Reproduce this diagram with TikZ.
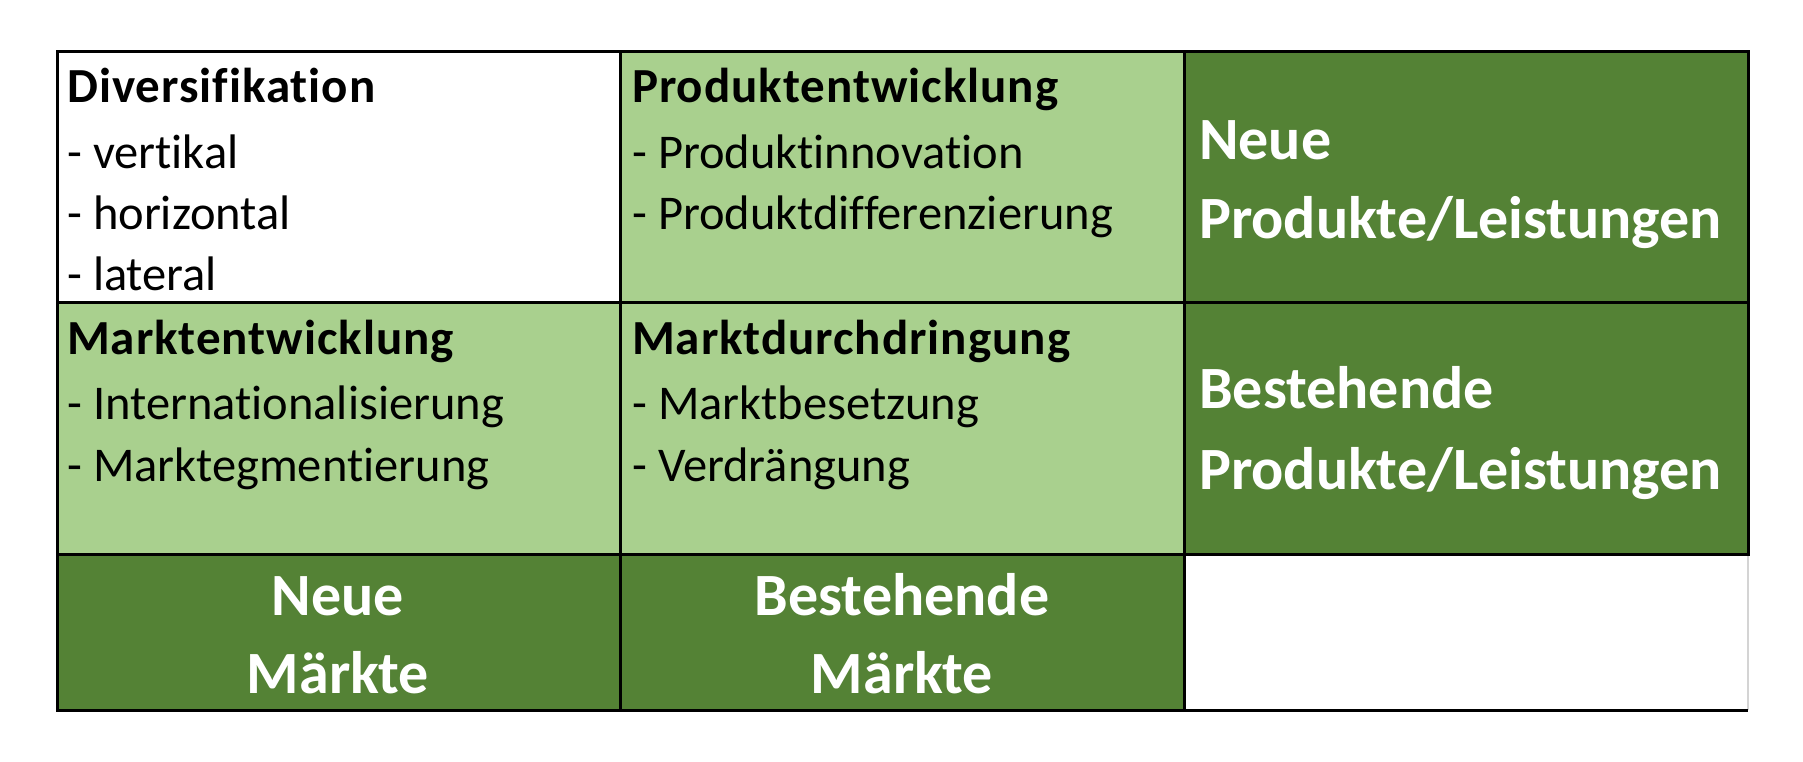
\documentclass[tikz,border=0pt]{standalone}
\usepackage{fontspec}
\setmainfont{Carlito}[Ligatures=NoCommon]
\newfontfamily\hdrfont{Carlito}[LetterSpace=2,Ligatures=NoCommon]
\definecolor{lightgreen}{RGB}{169,208,142}
\definecolor{darkgreen}{RGB}{84,130,53}
\definecolor{gridgray}{RGB}{212,212,212}
\tikzset{
  hdr/.style={anchor=base west,inner sep=0pt,font=\hdrfont\bfseries\fontsize{49}{56}\selectfont},
  item/.style={anchor=base west,inner sep=0pt,font=\fontsize{48.5}{58}\selectfont},
  wlabel/.style={anchor=base west,inner sep=0pt,text=white,font=\bfseries\fontsize{60}{70}\selectfont},
  wclabel/.style={anchor=base,inner sep=0pt,text=white,font=\bfseries\fontsize{60}{70}\selectfont},
  gridline/.style={line width=3pt,black},
}
\begin{document}
\begin{tikzpicture}[x=1pt,y=-1pt]
\useasboundingbox (0,0) rectangle (1803,762);
% cell fills
\fill[white] (57,52) rectangle (620,302);
\fill[lightgreen] (620,52) rectangle (1184,302);
\fill[darkgreen] (1184,52) rectangle (1748,302);
\fill[lightgreen] (57,302) rectangle (620,554);
\fill[lightgreen] (620,302) rectangle (1184,554);
\fill[darkgreen] (1184,302) rectangle (1748,554);
\fill[darkgreen] (57,554) rectangle (620,710);
\fill[darkgreen] (620,554) rectangle (1184,710);
\fill[white] (1184,554) rectangle (1748,710);
% grid
\draw[gridgray,line width=2pt] (1747.5,554) -- (1747.5,710);
\draw[gridline] (57,52) -- (1748,52);
\draw[gridline] (57,302) -- (1748,302);
\draw[gridline] (57,554) -- (1748,554);
\draw[gridline] (57,710) -- (1748,710);
\draw[gridline] (57,50.5) -- (57,711.5);
\draw[gridline] (620,52) -- (620,710);
\draw[gridline] (1184,52) -- (1184,710);
\draw[gridline] (1748,50.5) -- (1748,555.5);
% cell 1
\node[hdr] (d0) at (67,103) {Diversifikation};
\node[item] (d1) at (67,168) {- vertikal};
\node[item] (d2) at (67,229) {- horizontal};
\node[item] (d3) at (67,290) {- lateral};
% cell 2
\node[hdr] (p0) at (632,103) {Produktentwicklung};
\node[item] (p1) at (632,168) {- Produktinnovation};
\node[item] (p2) at (632,229) {- Produktdifferenzierung};
% cell 4
\node[hdr] (m0) at (67,354) {Marktentwicklung};
\node[item] (m1) at (67,419) {- Internationalisierung};
\node[item] (m2) at (67,481) {- Marktegmentierung};
% cell 5
\node[hdr] (k0) at (632,354) {Marktdurchdringung};
\node[item] (k1) at (632,419) {- Marktbesetzung};
\node[item] (k2) at (632,481) {- Verdrängung};
% right column
\node[wlabel] (n0) at (1199,160) {Neue};
\node[wlabel] (n1) at (1199,238) {Produkte/Leistungen};
\node[wlabel] (b0) at (1199,408) {Bestehende};
\node[wlabel] (b1) at (1199,489) {Produkte/Leistungen};
% bottom row
\node[wclabel] (nm0) at (338,615) {Neue};
\node[wclabel] (nm1) at (338,693) {Märkte};
\node[wclabel] (bm0) at (902,615) {Bestehende};
\node[wclabel] (bm1) at (902,693) {Märkte};
\end{tikzpicture}
\end{document}
